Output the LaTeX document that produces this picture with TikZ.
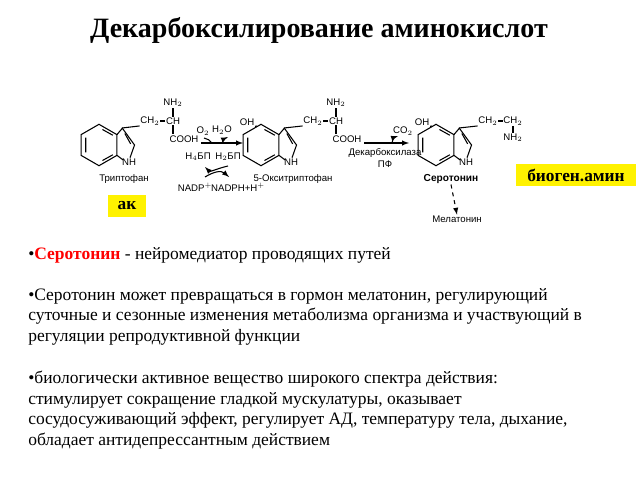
\documentclass[tikz,border=0pt]{standalone}
\usepackage{fontspec}
\setmainfont{Liberation Serif}
\newfontfamily\chemf{Liberation Sans}
\begin{document}
\begin{tikzpicture}[x=0.75pt,y=-0.75pt,
  chem/.style={font=\chemf\fontsize{7.2}{8}\selectfont,inner sep=0.5pt},
  bond/.style={line width=0.8pt},
  body/.style={font=\fontsize{13.1}{15.4}\selectfont,anchor=north west,align=left,inner sep=0},
  hl/.style={fill=yellow,font=\bfseries\fontsize{13}{14}\selectfont,inner sep=3pt},
  indole/.pic={
  \draw[bond] (0,-18)--(15.6,-9)--(15.6,9)--(0,18)--(-15.6,9)--(-15.6,-9)--cycle;
  \draw[bond] (-11.5,-6.5)--(-11.5,6.5) (3,-13.5)--(12,-8.5) (3,13.5)--(12,8.5);
  \draw[bond] (15.6,-9)--(20.3,-14.6)--(30.9,0)--(27,11) (15.6,9)--(21,13);
  \draw[bond] (22.5,-10)--(27.5,-1);
  }]
\useasboundingbox (0,0) rectangle (638,479);
% title
\node[font=\bfseries\fontsize{21}{24}\selectfont] (title) at (319,30) {Декарбоксилирование аминокислот};
% molecules
\pic[scale=1.15] at (99,145) {indole};
\pic[scale=1.15] at (261,145) {indole};
\pic[scale=1.15] at (436,145) {indole};
\node[chem] (nh1) at (129,162) {NH};
\node[chem] (nh2) at (291,162) {NH};
\node[chem] (nh3) at (466,162) {NH};
% Trp side chain
\node[chem] (ch2a) at (150,121) {CH$_2$};
\node[chem] (cha) at (173,121) {CH};
\node[chem] (nh2a) at (173,103) {NH$_2$};
\node[chem] (cooha) at (184,139) {COOH};
\draw[bond] (122,128)--(ch2a.south west);
\draw[bond] (ch2a)--(cha) (cha)--(nh2a) (cha.south)--(173,134);
% 5-HTP
\node[chem] (oh2) at (247,122) {OH};
\draw[bond] (oh2.south east)--(257,126);
\node[chem] (ch2b) at (313,121) {CH$_2$};
\node[chem] (chb) at (336,121) {CH};
\node[chem] (nh2b) at (336,103) {NH$_2$};
\node[chem] (coohb) at (347,139) {COOH};
\draw[bond] (284,128)--(ch2b.south west);
\draw[bond] (ch2b)--(chb) (chb)--(nh2b) (chb.south)--(336,134);
% serotonin
\node[chem] (oh3) at (422,122) {OH};
\draw[bond] (oh3.south east)--(432,126);
\node[chem] (ch2c) at (488,121) {CH$_2$};
\node[chem] (ch2d) at (513,121) {CH$_2$};
\node[chem] (nh2c) at (513,138) {NH$_2$};
\draw[bond] (459,128)--(ch2c.south west);
\draw[bond] (ch2c)--(ch2d) (ch2d)--(nh2c);
% names
\node[chem] (n1) at (124,179) {Триптофан};
\node[chem] (n2) at (293,179) {5-Окситриптофан};
\node[chem,font=\chemf\bfseries\fontsize{7.6}{8}\selectfont] (n3) at (451,179) {Серотонин};
\node[chem] (n4) at (457,219) {Мелатонин};
\draw[bond,-latex,dashed] (n3.south) -- (n4.north);
% arrow 1
\coordinate (a1s) at (201,143); \coordinate (a1e) at (243,143);
\draw[bond,-latex] (a1s)--(a1e);
\draw[bond] (204,138) to[bend left=20] (212,143);
\draw[bond,-latex] (222,143) to[bend left=20] (228,137);
\node[chem] (o2) at (203,131) {O$_2$};
\node[chem] (h2o) at (222,130) {H$_2$O};
\node[chem] (h4) at (198,157) {H$_4$БП};
\node[chem] (h2) at (228,157) {H$_2$БП};
\draw[bond,-latex] (228,166) .. controls (219,168) and (210,172) .. (205,167);
\draw[bond,-latex] (205,177) .. controls (213,172) and (221,170) .. (229,177);
\node[chem] (nadp) at (195,187) {NADP$^+$};
\node[chem] (nadph) at (238,187) {NADPH+H$^+$};
% arrow 2
\coordinate (a2s) at (364,143); \coordinate (a2e) at (409,143);
\draw[bond,-latex] (a2s)--(a2e);
\draw[bond,-latex] (392,143) to[bend left=30] (398,136);
\node[chem] (co2) at (403,131) {CO$_2$};
\node[chem] (dek) at (385,153) {Декарбоксилаза};
\node[chem] (pf) at (385,164) {ПФ};
% highlights
\node[hl,minimum width=29pt,minimum height=16pt] (ak) at (127,206) {ак};
\node[hl,minimum width=90pt,minimum height=17pt] (bio) at (576,175) {биоген.амин};
% body
\node[body] (t1) at (28,247) {•\textcolor{red}{\bfseries Серотонин} - нейромедиатор проводящих путей};
\node[body] (t2) at (28,288) {•Серотонин может превращаться в гормон мелатонин, регулирующий\\суточные и сезонные изменения метаболизма организма и участвующий в\\регуляции репродуктивной функции};
\node[body] (t3) at (28,371) {•биологически активное вещество широкого спектра действия:\\стимулирует сокращение гладкой мускулатуры, оказывает\\сосудосуживающий эффект, регулирует АД, температуру тела, дыхание,\\обладает антидепрессантным действием};
\end{tikzpicture}
\end{document}
